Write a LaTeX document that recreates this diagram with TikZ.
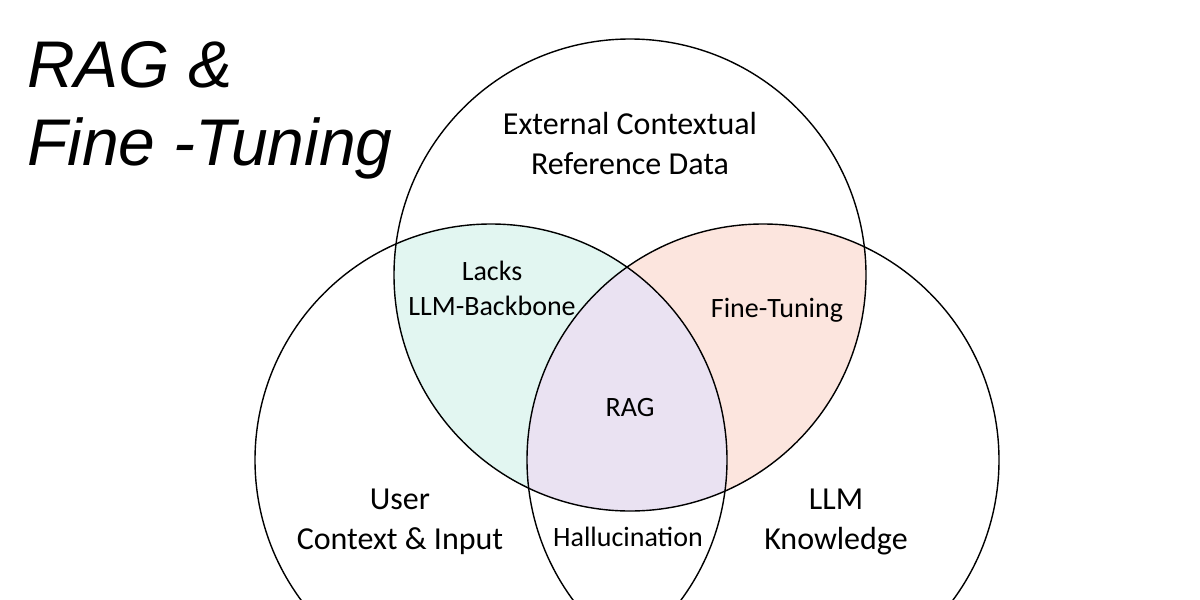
\documentclass[tikz,border=0pt]{standalone}
\usepackage{fontspec}
\setmainfont{Carlito}
\newfontfamily\titlefont{Liberation Sans}
\begin{document}
\begin{tikzpicture}[x=0.5pt,y=-0.5pt,
  lbl/.style={align=center,font=\fontsize{16}{20}\selectfont},
  sml/.style={align=center,font=\fontsize{14}{17.5}\selectfont},
  ring/.style={draw=black,line width=0.7pt}]
\useasboundingbox (0,0) rectangle (1200,600);
\coordinate (T) at (630,275);
\coordinate (L) at (491,460);
\coordinate (R) at (763,460);
\definecolor{cy}{HTML}{E2F6F1}
\definecolor{pk}{HTML}{FCE5DE}
\definecolor{pu}{HTML}{EAE2F2}
\begin{scope}\clip (T) circle[radius=118pt];\clip (L) circle[radius=118pt];\fill[cy] (0,0) rectangle (1200,600);\end{scope}
\begin{scope}\clip (T) circle[radius=118pt];\clip (R) circle[radius=118pt];\fill[pk] (0,0) rectangle (1200,600);\end{scope}
\begin{scope}\clip (T) circle[radius=118pt];\clip (L) circle[radius=118pt];\clip (R) circle[radius=118pt];\fill[pu] (0,0) rectangle (1200,600);\end{scope}
\draw[ring] (T) circle[radius=118pt];
\draw[ring] (L) circle[radius=118pt];
\draw[ring] (R) circle[radius=118pt];
\node[lbl] (ext) at (630,144) {External Contextual\\Reference Data};
\node[sml] (lacks) at (492,288) {Lacks\\LLM-Backbone};
\node[sml] (ft) at (777,310) {Fine-Tuning};
\node[sml] (rag) at (630,408) {RAG};
\node[lbl] (user) at (400,522) {User\\Context \& Input};
\node[sml] (hal) at (628,537) {Hallucination};
\node[lbl] (llm) at (836,522) {LLM\\Knowledge};
\node[anchor=north west,align=left,font=\titlefont\itshape\fontsize{33}{39}\selectfont] (title) at (20,34) {RAG \&\\Fine -Tuning};
\end{tikzpicture}
\end{document}
